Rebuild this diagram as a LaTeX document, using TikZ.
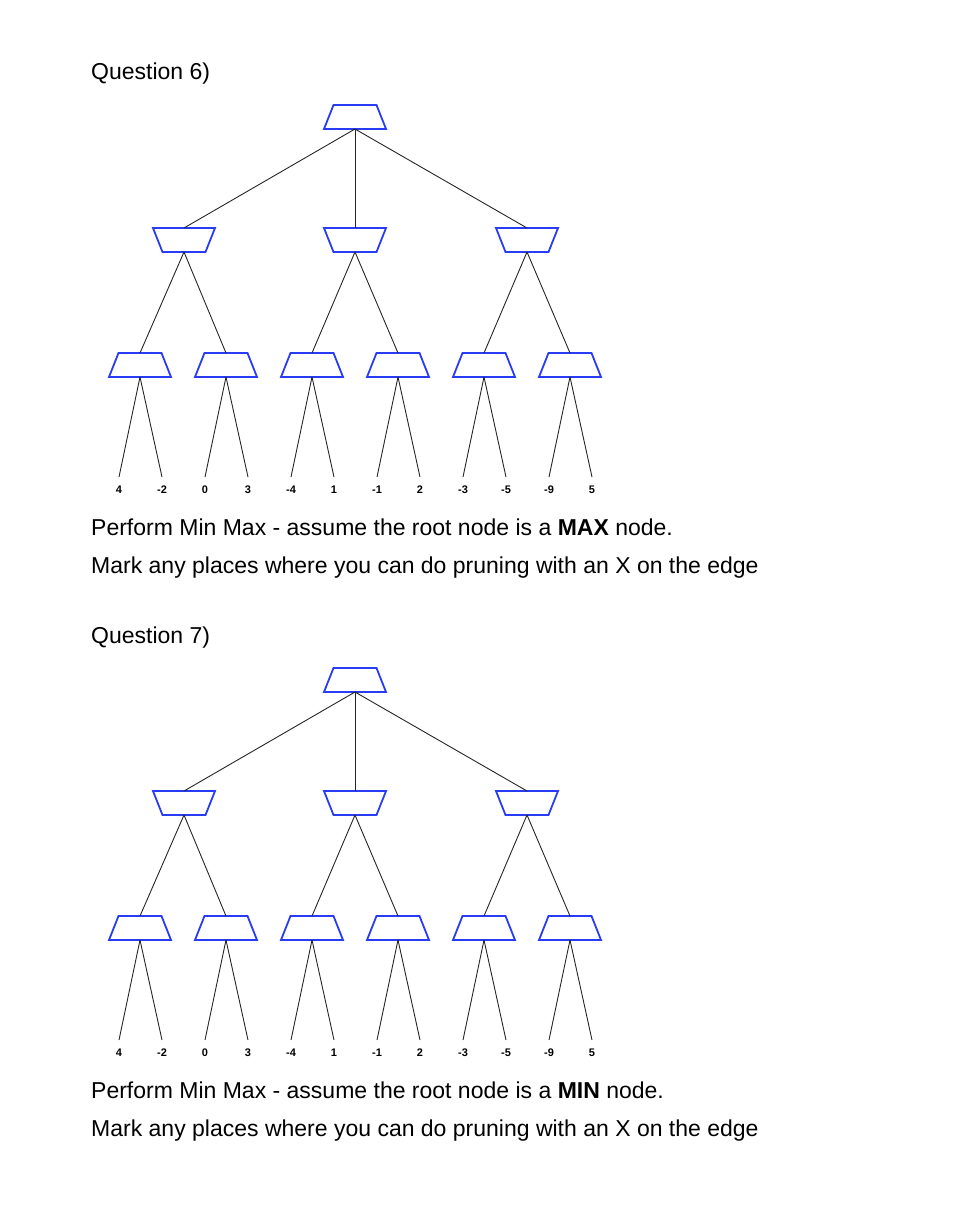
\documentclass[tikz,border=0pt]{standalone}
\usepackage{fontspec}
\setmainfont{Liberation Sans}
\definecolor{tb}{RGB}{40,60,245}
\tikzset{
  trapd/.style={draw=tb, line width=1.8pt, line join=miter},
  edge/.style={draw=black!85, line width=0.9pt},
  leaf/.style={font=\fontsize{11}{12}\selectfont\bfseries, inner sep=0pt},
  title/.style={font=\fontsize{23}{26}\selectfont, anchor=base west, inner sep=0pt}
}
\newcommand\mymaxtrap[1]{\draw[trapd] ([shift={(-31,12)}]#1) -- ([shift={(31,12)}]#1) -- ([shift={(21.5,-12)}]#1) -- ([shift={(-21.5,-12)}]#1) -- cycle;}
\newcommand\mymintrap[1]{\draw[trapd] ([shift={(-31,-12)}]#1) -- ([shift={(31,-12)}]#1) -- ([shift={(21.5,12)}]#1) -- ([shift={(-21.5,12)}]#1) -- cycle;}
\begin{document}
\begin{tikzpicture}[x=1pt,y=-1pt]
\path[use as bounding box] (0,0) rectangle (974,1230);
\foreach \oy/\q/\k in {0/6/MAX, 563/7/MIN}{
  \node[title] (q\q) at (91,80+\oy) {Question \q)};
  \node[title] (p\q) at (91,535+\oy) {Perform Min Max - assume the root node is a \textbf{\k} node.};
  \node[title] (m\q) at (91,573+\oy) {Mark any places where you can do pruning with an X on the edge};
  \coordinate (r\q) at (355,117+\oy);
  \mymaxtrap{r\q}
  \foreach \i/\x in {1/184,2/355,3/527}{
    \coordinate (a\q\i) at (\x,240+\oy);
    \mymintrap{a\q\i}
    \draw[edge] ([yshift=-12pt]r\q) -- ([yshift=12pt]a\q\i);
  }
  \foreach \j/\x/\pa/\la/\lb in {1/140/1/4/-2, 2/226/1/0/3, 3/312/2/-4/1, 4/398/2/-1/2, 5/484/3/-3/-5, 6/570/3/-9/5}{
    \coordinate (b\q\j) at (\x,365+\oy);
    \mymaxtrap{b\q\j}
    \draw[edge] ([yshift=-12pt]a\q\pa) -- ([yshift=12pt]b\q\j);
    \coordinate (la\q\j) at (\x-21,477+\oy);
    \coordinate (lb\q\j) at (\x+22,477+\oy);
    \draw[edge] ([yshift=-12pt]b\q\j) -- (la\q\j);
    \draw[edge] ([yshift=-12pt]b\q\j) -- (lb\q\j);
    \node[leaf] (va\q\j) at (\x-21,490+\oy) {\la};
    \node[leaf] (vb\q\j) at (\x+22,490+\oy) {\lb};
  }
}
\end{tikzpicture}
\end{document}
